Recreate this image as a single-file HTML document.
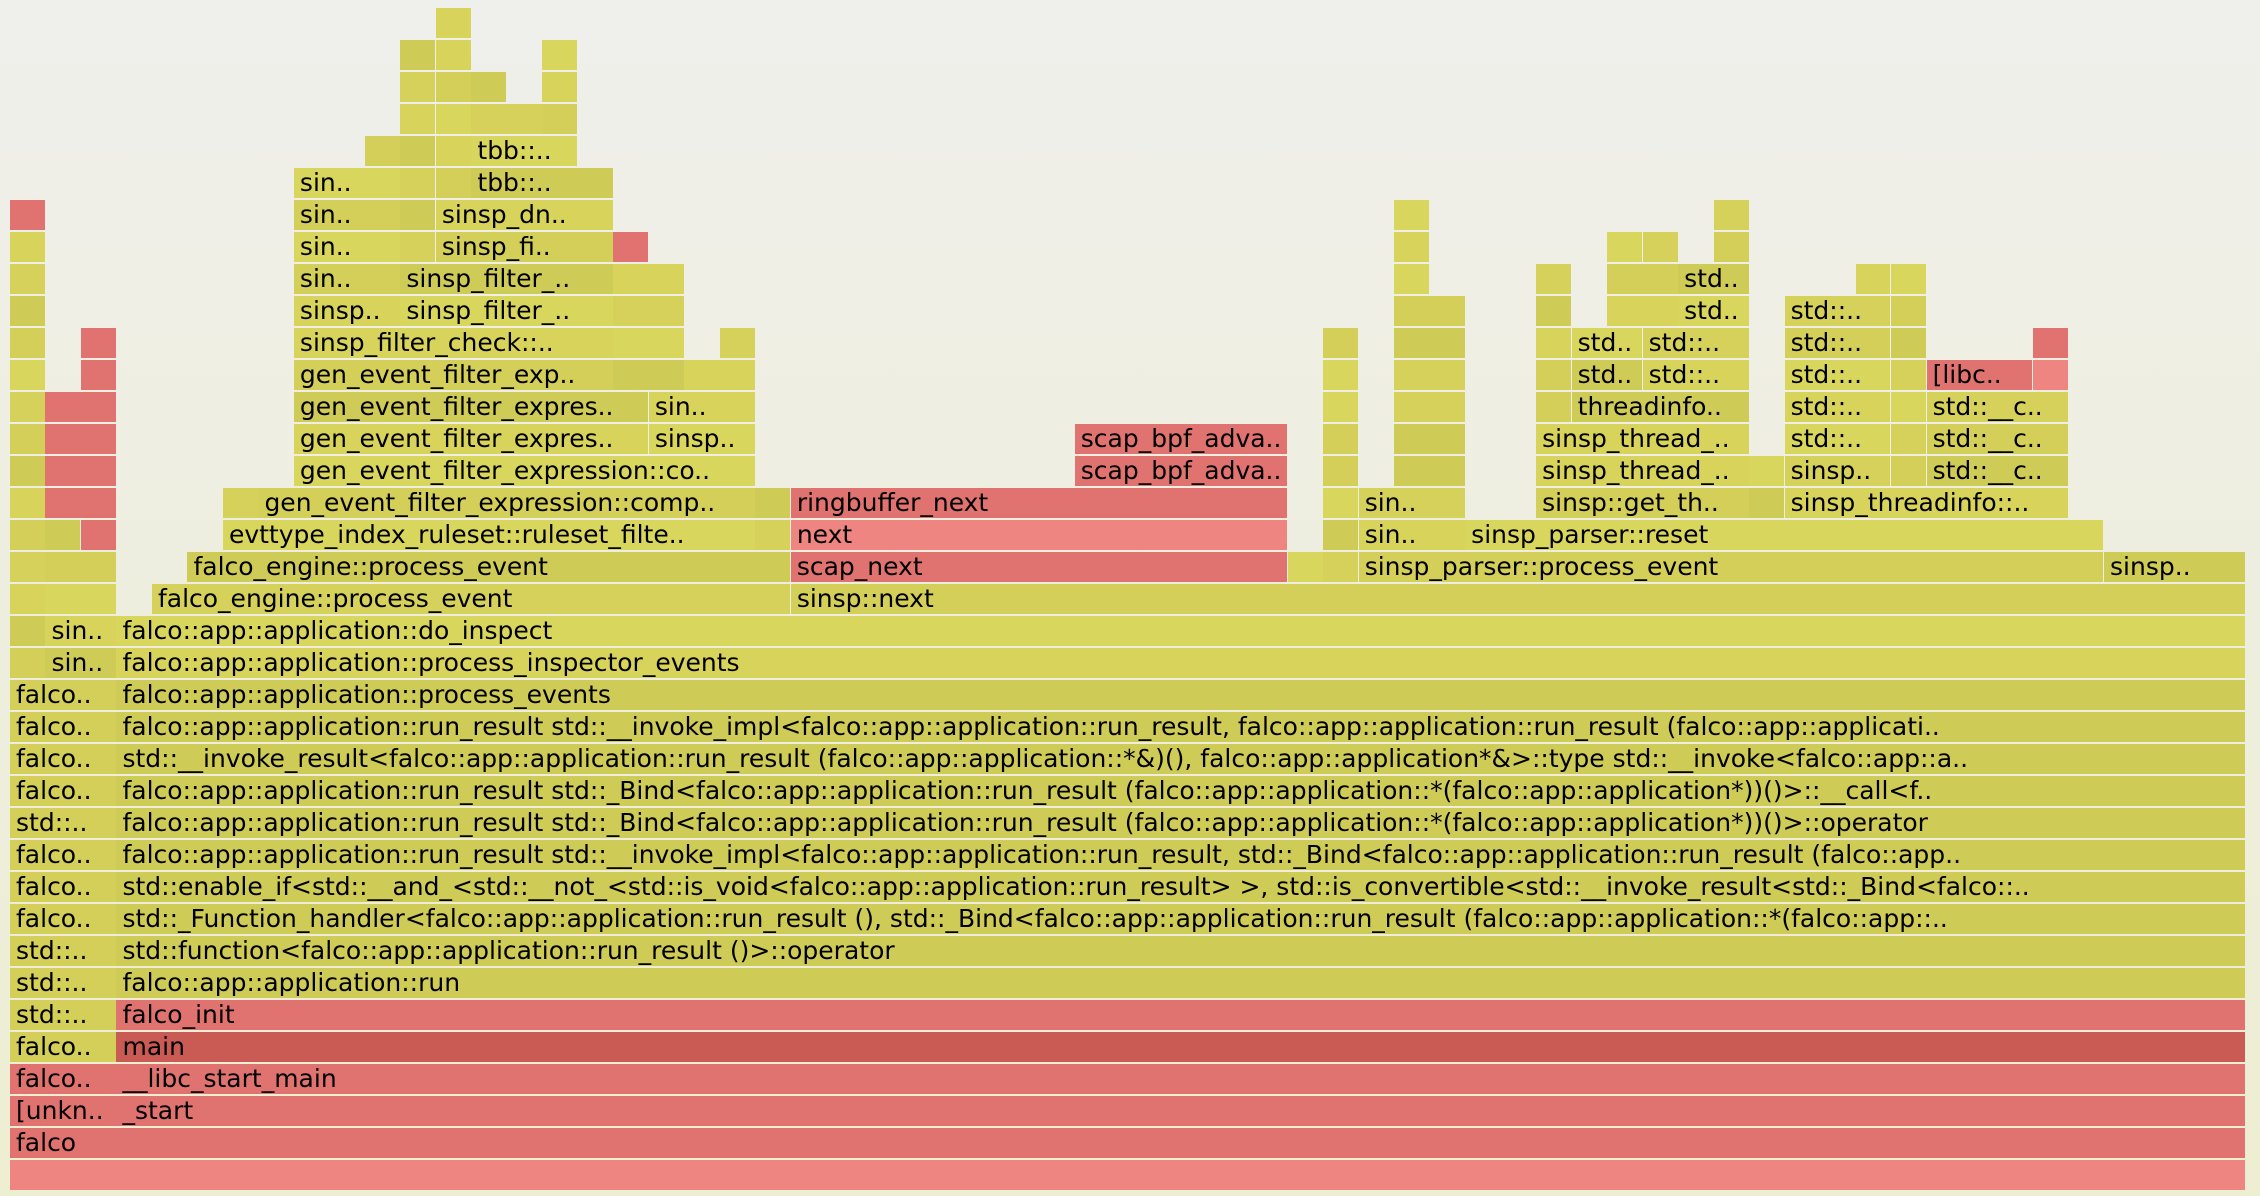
<!DOCTYPE html>
<html><head><meta charset="utf-8">
<style>
html,body{margin:0;padding:0}
body{width:2260px;height:1196px;position:relative;overflow:hidden;background:linear-gradient(#efefec,#eeeed2);font-family:"DejaVu Sans","Liberation Sans",sans-serif}
.f{position:absolute;height:30px;box-sizing:border-box;overflow:hidden;white-space:nowrap;font-size:25px;line-height:29px;padding-left:6px;color:#000}
</style></head>
<body>
<div id="chart"></div>
<script>
// [depth, startSample, endSample, name, kind]
const totalSamples = 63;
const frames = [
[0,0,63,'','l'],
[1,0,63,'falco','r'],
[2,0,3,'[unkn..','r'],[2,3,63,'_start','r'],
[3,0,3,'falco..','r'],[3,3,63,'__libc_start_main','r'],
[4,0,3,'falco..','y'],[4,3,63,'main','d'],
[5,0,3,'std::..','y'],[5,3,63,'falco_init','r'],
[6,0,3,'std::..','y'],[6,3,63,'falco::app::application::run','y'],
[7,0,3,'std::..','y'],[7,3,63,'std::function<falco::app::application::run_result ()>::operator','y'],
[8,0,3,'falco..','y'],[8,3,63,'std::_Function_handler<falco::app::application::run_result (), std::_Bind<falco::app::application::run_result (falco::app::application::*(falco::app::..','y'],
[9,0,3,'falco..','y'],[9,3,63,'std::enable_if<std::__and_<std::__not_<std::is_void<falco::app::application::run_result> >, std::is_convertible<std::__invoke_result<std::_Bind<falco::..','y'],
[10,0,3,'falco..','y'],[10,3,63,'falco::app::application::run_result std::__invoke_impl<falco::app::application::run_result, std::_Bind<falco::app::application::run_result (falco::app..','y'],
[11,0,3,'std::..','y'],[11,3,63,'falco::app::application::run_result std::_Bind<falco::app::application::run_result (falco::app::application::*(falco::app::application*))()>::operator','y'],
[12,0,3,'falco..','y'],[12,3,63,'falco::app::application::run_result std::_Bind<falco::app::application::run_result (falco::app::application::*(falco::app::application*))()>::__call<f..','y'],
[13,0,3,'falco..','y'],[13,3,63,'std::__invoke_result<falco::app::application::run_result (falco::app::application::*&)(), falco::app::application*&>::type std::__invoke<falco::app::a..','y'],
[14,0,3,'falco..','y'],[14,3,63,'falco::app::application::run_result std::__invoke_impl<falco::app::application::run_result, falco::app::application::run_result (falco::app::applicati..','y'],
[15,0,3,'falco..','y'],[15,3,63,'falco::app::application::process_events','y'],
[16,0,1,'','y'],[16,1,3,'sin..','y'],[16,3,63,'falco::app::application::process_inspector_events','y'],
[17,0,1,'','y'],[17,1,3,'sin..','y'],[17,3,63,'falco::app::application::do_inspect','y'],
[18,0,1,'','y'],[18,1,3,'','y'],[18,4,22,'falco_engine::process_event','y'],[18,22,63,'sinsp::next','y'],
[19,0,1,'','y'],[19,1,3,'','y'],[19,5,22,'falco_engine::process_event','y'],[19,22,36,'scap_next','r'],[19,36,37,'','y'],[19,37,38,'','y'],[19,38,59,'sinsp_parser::process_event','y'],[19,59,63,'sinsp..','y'],
[20,0,1,'','y'],[20,1,2,'','y'],[20,2,3,'','r'],[20,6,21,'evttype_index_ruleset::ruleset_filte..','y'],[20,21,22,'','y'],[20,22,36,'next','l'],[20,37,38,'','y'],[20,38,41,'sin..','y'],[20,41,59,'sinsp_parser::reset','y'],
[21,0,1,'','y'],[21,1,3,'','r'],[21,6,7,'','y'],[21,7,21,'gen_event_filter_expression::comp..','y'],[21,21,22,'','y'],[21,22,36,'ringbuffer_next','r'],[21,37,38,'','y'],[21,38,41,'sin..','y'],[21,43,49,'sinsp::get_th..','y'],[21,49,50,'','y'],[21,50,58,'sinsp_threadinfo::..','y'],
[22,0,1,'','y'],[22,1,3,'','r'],[22,8,21,'gen_event_filter_expression::co..','y'],[22,30,36,'scap_bpf_adva..','r'],[22,37,38,'','y'],[22,39,41,'','y'],[22,43,49,'sinsp_thread_..','y'],[22,49,50,'','y'],[22,50,53,'sinsp..','y'],[22,53,54,'','y'],[22,54,58,'std::__c..','y'],
[23,0,1,'','y'],[23,1,3,'','r'],[23,8,18,'gen_event_filter_expres..','y'],[23,18,21,'sinsp..','y'],[23,30,36,'scap_bpf_adva..','r'],[23,37,38,'','y'],[23,39,41,'','y'],[23,43,49,'sinsp_thread_..','y'],[23,50,53,'std::..','y'],[23,53,54,'','y'],[23,54,58,'std::__c..','y'],
[24,0,1,'','y'],[24,1,3,'','r'],[24,8,18,'gen_event_filter_expres..','y'],[24,18,21,'sin..','y'],[24,37,38,'','y'],[24,39,41,'','y'],[24,43,44,'','y'],[24,44,49,'threadinfo..','y'],[24,50,53,'std::..','y'],[24,53,54,'','y'],[24,54,58,'std::__c..','y'],
[25,0,1,'','y'],[25,2,3,'','r'],[25,8,17,'gen_event_filter_exp..','y'],[25,17,19,'','y'],[25,19,21,'','y'],[25,37,38,'','y'],[25,39,41,'','y'],[25,43,44,'','y'],[25,44,46,'std..','y'],[25,46,49,'std::..','y'],[25,50,53,'std::..','y'],[25,53,54,'','y'],[25,54,57,'[libc..','r'],[25,57,58,'','l'],
[26,0,1,'','y'],[26,2,3,'','r'],[26,8,17,'sinsp_filter_check::..','y'],[26,17,19,'','y'],[26,20,21,'','y'],[26,37,38,'','y'],[26,39,41,'','y'],[26,43,44,'','y'],[26,44,46,'std..','y'],[26,46,49,'std::..','y'],[26,50,53,'std::..','y'],[26,53,54,'','y'],[26,57,58,'','r'],
[27,0,1,'','y'],[27,8,11,'sinsp..','y'],[27,11,17,'sinsp_filter_..','y'],[27,17,19,'','y'],[27,39,41,'','y'],[27,43,44,'','y'],[27,45,47,'','y'],[27,47,49,'std..','y'],[27,50,53,'std::..','y'],[27,53,54,'','y'],
[28,0,1,'','y'],[28,8,11,'sin..','y'],[28,11,17,'sinsp_filter_..','y'],[28,17,19,'','y'],[28,39,40,'','y'],[28,43,44,'','y'],[28,45,47,'','y'],[28,47,49,'std..','y'],[28,52,53,'','y'],[28,53,54,'','y'],
[29,0,1,'','y'],[29,8,11,'sin..','y'],[29,11,12,'','y'],[29,12,17,'sinsp_fi..','y'],[29,17,18,'','r'],[29,39,40,'','y'],[29,45,46,'','y'],[29,46,47,'','y'],[29,48,49,'','y'],
[30,0,1,'','r'],[30,8,11,'sin..','y'],[30,11,12,'','y'],[30,12,17,'sinsp_dn..','y'],[30,39,40,'','y'],[30,48,49,'','y'],
[31,8,11,'sin..','y'],[31,11,12,'','y'],[31,12,13,'','y'],[31,13,17,'tbb::..','y'],
[32,10,11,'','y'],[32,11,12,'','y'],[32,12,13,'','y'],[32,13,16,'tbb::..','y'],
[33,11,12,'','y'],[33,12,13,'','y'],[33,13,15,'','y'],[33,15,16,'','y'],
[34,11,12,'','y'],[34,12,13,'','y'],[34,13,14,'','y'],[34,15,16,'','y'],
[35,11,12,'','y'],[35,12,13,'','y'],[35,15,16,'','y'],
[36,12,13,'','y']
];
const yellows = ['#d7d35b','#d3cf58','#d9d65e','#cfcb57','#d5d15a'];
const kindColor = {r:'#e07370',l:'#ee8580',d:'#c95a54'};
const left = 10, right = 2246, baseY = 1160, rowPitch = 32, rowH = 30;
function xScale(u){ return left + u * (right - left) / totalSamples; }
function yScale(d){ return baseY - d * rowPitch; }
const chart = document.getElementById('chart');
frames.forEach(function(f, i){
  const el = document.createElement('div');
  el.className = 'f';
  
  
  const x0 = xScale(f[1]), x1 = xScale(f[2]);
  el.style.left = x0 + 'px';
  el.style.width = (x1 - x0 - 0.6) + 'px';
  el.style.top = yScale(f[0]) + 'px';
  el.style.background = f[4] === 'y' ? yellows[(i * 7 + f[0]) % yellows.length] : kindColor[f[4]];
  el.textContent = f[3];
  chart.appendChild(el);
});
</script>
</body></html>
